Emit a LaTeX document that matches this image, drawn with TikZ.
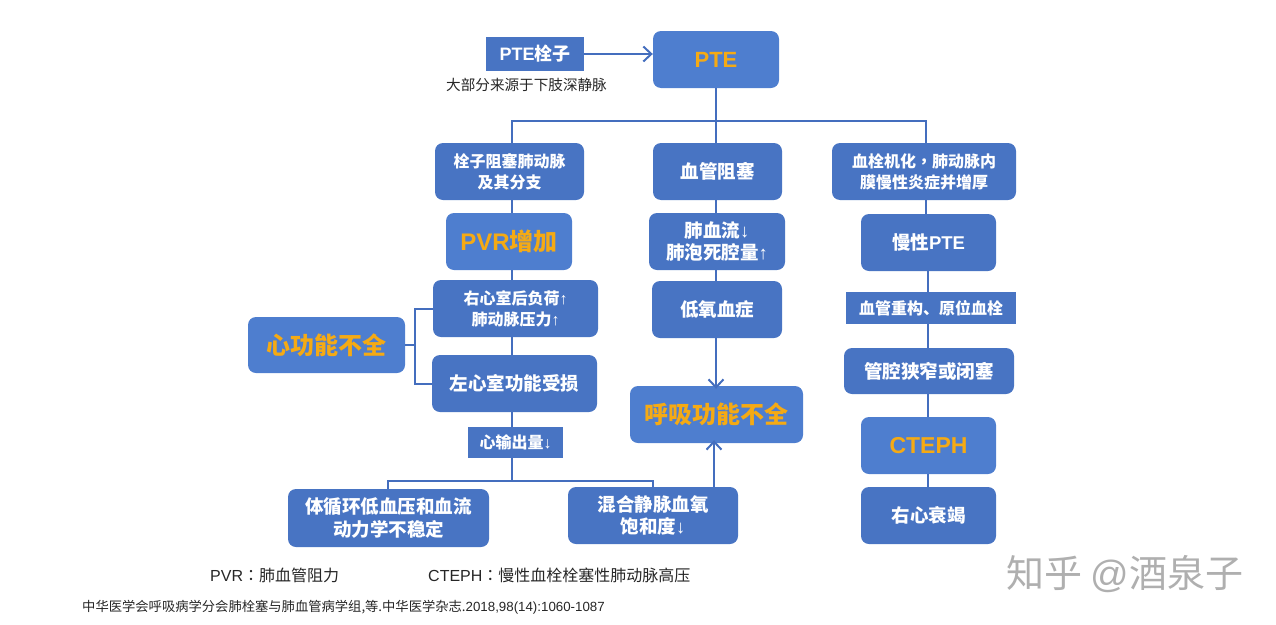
\documentclass[tikz,border=0pt]{standalone}
\usepackage{fontspec}
\usepackage{xcolor}
\usetikzlibrary{arrows.meta}
\usetikzlibrary{positioning}
\setmainfont{Noto Sans CJK SC}
\newfontfamily\latinfont{Liberation Sans}
\newfontfamily\tcfont{Noto Sans CJK TC}
\definecolor{custom-blue}{RGB}{72, 116, 195}
\definecolor{custom-light}{RGB}{78, 126, 207}
\definecolor{custom-gold}{RGB}{245, 170, 20}
\definecolor{custom-line}{RGB}{68, 110, 190}
\definecolor{custom-mark}{RGB}{175, 175, 175}
\newcommand{\fs}[1]{\fontsize{#1}{#1}\selectfont}
\newcommand{\upmark}{{\mdseries\latinfont ↑}}
\newcommand{\downmark}{{\mdseries\latinfont ↓}}
\tikzset{
  bluebox/.style={fill=custom-blue, rounded corners=8pt, inner sep=0pt, align=center, text=white, font=\bfseries\fs{18.5}},
  goldbox/.style={bluebox, fill=custom-light, text=custom-gold, font=\bfseries\fs{24}},
  flatbox/.style={bluebox, rounded corners=0pt, font=\bfseries\fs{16}},
  smallbox/.style={bluebox, font=\bfseries\fs{16}},
  note/.style={inner sep=0pt, anchor=west, text=black!85},
  link/.style={draw=custom-line, line width=2pt},
  arrowlink/.style={link, -{Straight Barb[length=8pt,width=15pt,line width=2pt]}},
}
\begin{document}
\begin{tikzpicture}[x=1pt, y=-1pt]
\useasboundingbox (0,0) rectangle (1276,624);
% top
\node[flatbox, font=\bfseries\fs{18}, minimum width=98pt, minimum height=34pt] (embolus) at (535,54) {{\latinfont PTE}栓子};
\node[goldbox, font=\bfseries\latinfont\fs{22}, minimum width=126pt, minimum height=57pt] (pte) at (716,59.5) {PTE};
\node[note, font=\fs{14.6}] (source) at (446,85) {大部分来源于下肢深静脉};
% left column
\node[smallbox, minimum width=149pt, minimum height=57pt] (block) at (509.5,171.5) {栓子阻塞肺动脉\\[5pt]及其分支};
\node[goldbox, minimum width=126pt, minimum height=57pt] (pvr) at (509,241.5) {{\latinfont PVR}增加};
\node[smallbox, minimum width=165pt, minimum height=57pt] (rvload) at (515.5,308.5) {右心室后负荷\upmark\\[5pt]肺动脉压力\upmark};
\node[goldbox, minimum width=157pt, minimum height=56pt] (heart) at (326.5,345) {心功能不全};
\node[bluebox, minimum width=165pt, minimum height=57pt] (lvfail) at (514.5,383.5) {左心室功能受损};
\node[flatbox, minimum width=95pt, minimum height=31pt] (output) at (515.5,442.5) {心输出量\downmark};
\node[bluebox, minimum width=201pt, minimum height=58pt] (shock) at (388.5,518) {体循环低血压和血流\\[4pt]动力学不稳定};
\node[bluebox, minimum width=170pt, minimum height=57pt] (mixed) at (653,515.5) {混合静脉血氧\\[4pt]饱和度\downmark};
% middle column
\node[bluebox, minimum width=129pt, minimum height=57pt] (vessel) at (717.5,171.5) {血管阻塞};
\node[bluebox, minimum width=136pt, minimum height=57pt] (flow) at (717,241.5) {肺血流\downmark\\[4pt]肺泡死腔量\upmark};
\node[bluebox, minimum width=130pt, minimum height=57pt] (hypox) at (717,309.5) {低氧血症};
\node[goldbox, minimum width=173pt, minimum height=57pt] (resp) at (716.5,414.5) {呼吸功能不全};
% right column
\node[smallbox, minimum width=184pt, minimum height=57pt] (organize) at (924,171.5) {血栓机化{\tcfont ，}肺动脉内\\[5pt]膜慢性炎症并增厚};
\node[bluebox, minimum width=135pt, minimum height=57pt] (chronic) at (928.5,242.5) {慢性{\latinfont PTE}};
\node[flatbox, minimum width=170pt, minimum height=32pt] (remodel) at (931,308) {血管重构、原位血栓};
\node[bluebox, minimum width=170pt, minimum height=46pt] (narrow) at (929,371) {管腔狭窄或闭塞};
\node[goldbox, font=\bfseries\latinfont\fs{23}, minimum width=135pt, minimum height=57pt] (cteph) at (928.5,445.5) {CTEPH};
\node[bluebox, minimum width=135pt, minimum height=57pt] (rhf) at (928.5,515.5) {右心衰竭};
% notes
\node[note, font=\fs{16}] (pvrnote) at (210,575) {{\latinfont PVR}{\tcfont ：}肺血管阻力};
\node[note, font=\fs{16}] (ctephnote) at (428,575) {{\latinfont CTEPH}{\tcfont ：}慢性血栓栓塞性肺动脉高压};
\node[note, font=\fs{13.3}] (cite) at (82,607) {中华医学会呼吸病学分会肺栓塞与肺血管病学组,等.中华医学杂志.{\latinfont 2018,98(14):1060-1087}};
\node[note, text=custom-mark, font=\fs{38}] (mark) at (1006,574) {知乎 {\latinfont @}酒泉子};
% bus points
\coordinate (busL) at (512,121);
\coordinate (busM) at (716,121);
\coordinate (busR) at (926,121);
\coordinate (spineR) at (927.5,300);
\coordinate (bracket) at (415,345);
\coordinate (busB) at (512,481);
\coordinate (busBL) at (388,481);
\coordinate (busBR) at (653,481);
\coordinate (upM) at (714,500);
% links
\draw[arrowlink] (embolus) -- (embolus -| pte.west);
\draw[link] (pte) -- (busM);
\draw[link] (busL |- block.north) -- (busL) -- (busR) -- (busR |- organize.north);
\draw[link] (busM) -- (busM |- vessel.north);
\foreach \a/\b in {block/pvr, pvr/rvload, rvload/lvfail, lvfail/output}
  \draw[link] (busL |- \a.south) -- (busL |- \b.north);
\draw[link] (busL |- output.south) -- (busB);
\foreach \a/\b in {vessel/flow, flow/hypox}
  \draw[link] (busM |- \a.south) -- (busM |- \b.north);
\draw[arrowlink] (busM |- hypox.south) -- ([yshift=-3pt]busM |- resp.north);
\draw[arrowlink] (upM |- mixed.north) -- ([yshift=3pt]upM |- resp.south);
\draw[link] (busR |- organize.south) -- (busR |- chronic.north);
\foreach \a/\b in {chronic/remodel, remodel/narrow, narrow/cteph, cteph/rhf}
  \draw[link] (spineR |- \a.south) -- (spineR |- \b.north);
\draw[link] (heart.east) -- (bracket);
\draw[link] (rvload.west) -| (bracket) |- (lvfail.west);
\draw[link] (busBL |- shock.north) -- (busBL) -- (busBR) -- (busBR |- mixed.north);
\end{tikzpicture}
\end{document}
